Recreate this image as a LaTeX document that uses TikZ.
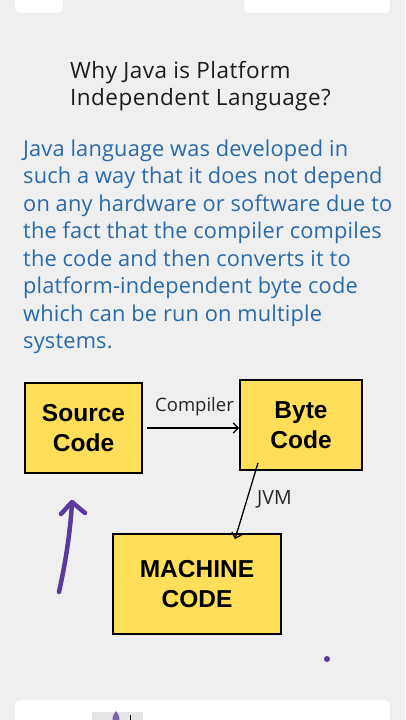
\documentclass[tikz,border=0pt]{standalone}
\usepackage{fontspec}
\setmainfont{Open Sans}
\newfontfamily\boxfont{Liberation Sans}
\usetikzlibrary{arrows.meta}
\definecolor{bg}{HTML}{EFEFEF}
\definecolor{boxyellow}{HTML}{FFDE59}
\definecolor{bodyblue}{HTML}{2A6AA6}
\definecolor{pen}{HTML}{5B3A9B}
\definecolor{titlegray}{HTML}{1C1C1C}
\tikzset{
  card/.style={fill=white, draw=black!8, rounded corners=4pt},
  codebox/.style={draw=black, line width=1.8pt, fill=boxyellow, inner sep=0pt,
    align=center, font=\boxfont\fontsize{24.5}{30}\selectfont\bfseries},
  flow/.style={line width=1.3pt, -{Straight Barb[length=5pt,width=10pt,line width=1.3pt]}},
  flowlabel/.style={font=\fontsize{18.5}{22}\selectfont, text=black!85, inner sep=0pt},
  penstroke/.style={draw=pen, line width=4.5pt, line cap=round, line join=round},
}
\begin{document}
\begin{tikzpicture}[x=1pt,y=-1pt]
\useasboundingbox (0,0) rectangle (405,720);
\fill[bg] (0,0) rectangle (405,720);
% top cards
\path[card] (15,-10) rectangle (63,13);
\path[card] (244,-10) rectangle (390,13);
% bottom card
\path[card] (15,700) rectangle (390,730);
\fill[black!10] (92,712) rectangle (143,722);
\fill[pen!80] (116,711) .. controls (112,716) and (112,720) .. (113,722) -- (119,722) .. controls (120,720) and (120,716) .. (116,711);
\draw[black, line width=0.8pt] (130,715) -- (130,722);
% title
\node[anchor=north west, inner sep=0pt, align=left, text=titlegray,
  font=\addfontfeatures{LetterSpace=2}\fontsize{22.5}{27}\selectfont] (title) at (70,61.5)
  {Why Java is Platform\\Independent Language?};
% body
\node[anchor=north west, inner sep=0pt, align=left, text=bodyblue,
  font=\addfontfeatures{LetterSpace=0.8}\fontsize{21.8}{27.5}\selectfont] (body) at (23,139.5)
  {Java language was developed in\\such a way that it does not depend\\on any hardware or software due to\\the fact that the compiler compiles\\the code and then converts it to\\platform-independent byte code\\which can be run on multiple\\systems.};
% boxes
\node[codebox, minimum width=117pt, minimum height=90pt] (src) at (83.5,428) {Source\\Code};
\node[codebox, minimum width=122pt, minimum height=90pt] (byte) at (301,425) {Byte\\Code};
\node[codebox, minimum width=168pt, minimum height=100pt] (mach) at (197,584) {MACHINE\\CODE};
% compiler arrow
\draw[flow, shorten <=4pt] (src.east) -- (src.east -| byte.west);
\node[flowlabel, anchor=south] (comp) at (194.5,416) {Compiler};
% JVM arrow
\coordinate (j1) at ([xshift=-43pt,yshift=8pt]byte.south);
\coordinate (j2) at ([xshift=38pt,yshift=-6pt]mach.north);
\draw[flow] (j1) -- (j2);
\node[flowlabel, anchor=west, font=\fontsize{19.5}{22}\selectfont] (jvm) at (257,499) {JVM};
% purple hand-drawn arrow
\path[penstroke] (59,592) .. controls (65,565) and (70,535) .. (72,503);
\path[penstroke] (61,514) -- (72,502) -- (85,513);
\fill[pen] (327,659) circle (3pt);
\end{tikzpicture}
\end{document}
